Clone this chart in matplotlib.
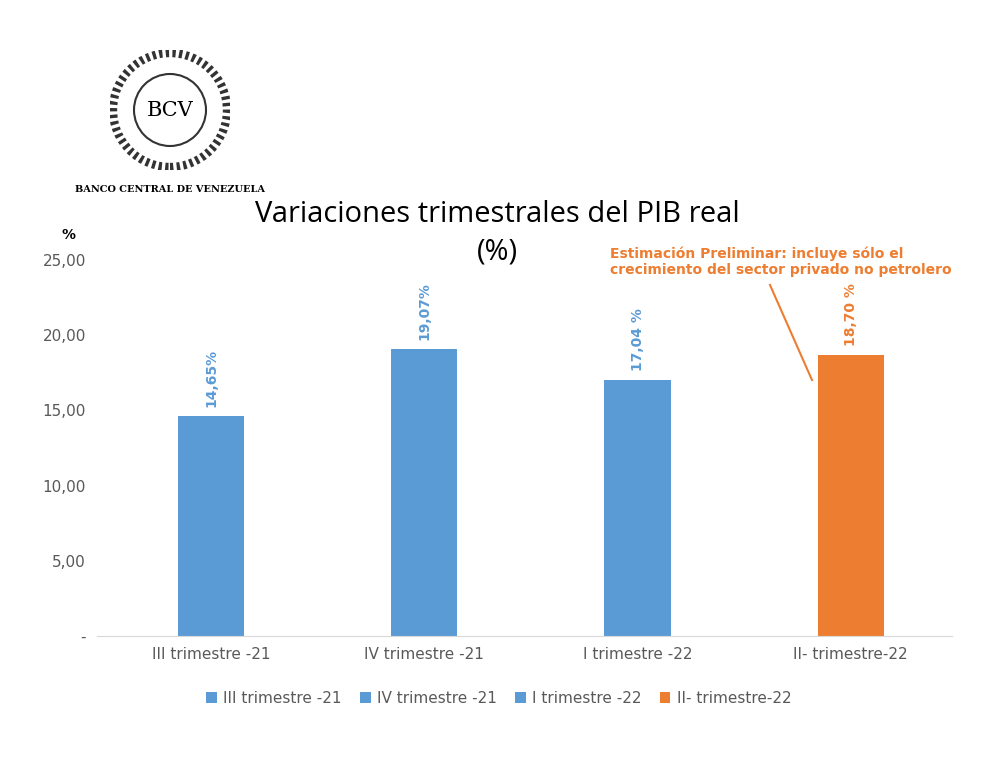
import matplotlib
matplotlib.use("Agg")
import matplotlib.pyplot as plt
from matplotlib.patches import Circle

categories = ["III trimestre -21", "IV trimestre -21", "I trimestre -22", "II- trimestre-22"]
values = [14.65, 19.07, 17.04, 18.70]
labels = ["14,65%", "19,07%", "17,04 %", "18,70 %"]
colors = ["#5b9bd5", "#5b9bd5", "#5b9bd5", "#ed7d31"]
yticks = [0, 5, 10, 15, 20, 25]
yticklabels = ["-", "5,00", "10,00", "15,00", "20,00", "25,00"]

W, H = 1008, 758
fig = plt.figure(figsize=(W/100, H/100), dpi=100)
ax = fig.add_axes([97/W, 1-636/H, 855/W, 376/H])
x = range(len(categories))
bars = ax.bar(x, values, width=0.31, color=colors, label=categories)
ax.set_xlim(-0.535, 3.475)
ax.set_ylim(0, 25)
ax.set_yticks(yticks)
ax.set_yticklabels(yticklabels, fontsize=11, color="#595959")
ax.set_xticks(list(x))
ax.set_xticklabels(categories, fontsize=11, color="#595959")
for s in ["top", "right", "left"]:
    ax.spines[s].set_visible(False)
ax.spines["bottom"].set_color("#d9d9d9")
ax.tick_params(length=0, pad=8)
for xi, v, lab, c in zip(x, values, labels, colors):
    ax.text(xi, v + 0.6, lab, rotation=90, ha="center", va="bottom",
            fontsize=10, fontweight="bold", color=c)

ax.legend(handles=bars, labels=categories, loc="upper center", bbox_to_anchor=(0.47, -0.11),
          ncol=4, frameon=False, fontsize=11, handlelength=0.7, handleheight=0.7,
          columnspacing=1.2, handletextpad=0.4, labelcolor="#595959")

fig.text(497/W, 1-215/H, "Variaciones trimestrales del PIB real", ha="center", va="center",
         fontsize=21, family="Open Sans")
fig.text(497/W, 1-252/H, "(%)", ha="center", va="center", fontsize=21, family="Open Sans")
fig.text(68/W, 1-235/H, "%", ha="center", va="center", fontsize=10, fontweight="bold")
fig.text(610/W, 1-254/H, "Estimación Preliminar: incluye sólo el", ha="left", va="center",
         fontsize=10, fontweight="bold", color="#ed7d31")
fig.text(610/W, 1-270/H, "crecimiento del sector privado no petrolero", ha="left", va="center",
         fontsize=10, fontweight="bold", color="#ed7d31")
fig.add_artist(plt.Line2D([770/W, 812/W], [1-285/H, 1-380/H], color="#ed7d31", lw=1.5))

# logo
lax = fig.add_axes([110/W, 1-170/H, 120/W, 120/H])
lax.set_xlim(-1, 1); lax.set_ylim(-1, 1); lax.set_aspect("equal"); lax.axis("off")
lax.add_patch(Circle((0, 0), 0.95, fill=False, lw=6, color="#333333", ls=(0, (0.4, 0.4))))
lax.add_patch(Circle((0, 0), 0.6, fill=False, lw=1.5, color="#333333"))
lax.text(0, 0, "BCV", ha="center", va="center", fontsize=15, family="DejaVu Serif")
fig.text(170/W, 1-189/H, "BANCO CENTRAL DE VENEZUELA", ha="center", va="center",
         fontsize=7, family="DejaVu Serif", fontweight="bold")

fig.savefig("out.png", dpi=100)
